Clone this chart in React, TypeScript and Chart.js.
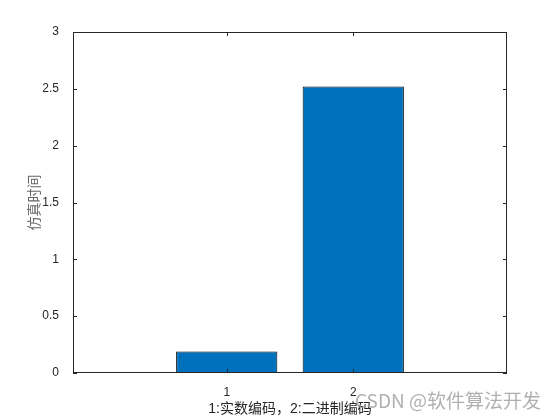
import { useEffect, useRef } from 'react'
import { Chart, registerables } from 'chart.js'

Chart.register(...registerables)

// data
const categories = [1, 2]
const simTimes = [0.19, 2.52]
const yTickValues = [0, 0.5, 1, 1.5, 2, 2.5, 3]
const xTitle = '1:实数编码，2:二进制编码'
const yTitle = '仿真时间'

const axisColor = '#262626'
const tickFont = { family: '"Liberation Sans", Arial, sans-serif', size: 12 }

// MATLAB style box with inward ticks on all four sides
const boxTicks = {
  id: 'boxTicks',
  afterDraw(chart: any) {
    const { ctx, chartArea: a, scales } = chart
    const len = 4
    ctx.save()
    ctx.strokeStyle = axisColor
    ctx.lineWidth = 1
    ctx.strokeRect(a.left + 0.5, a.top + 0.5, a.right - a.left - 1, a.bottom - a.top - 1)
    ctx.beginPath()
    scales.y.ticks.forEach((t: any) => {
      const y = Math.round(scales.y.getPixelForValue(t.value)) + 0.5
      ctx.moveTo(a.left, y)
      ctx.lineTo(a.left + len, y)
      ctx.moveTo(a.right, y)
      ctx.lineTo(a.right - len, y)
    })
    scales.x.ticks.forEach((t: any) => {
      const x = Math.round(scales.x.getPixelForValue(t.value)) + 0.5
      ctx.moveTo(x, a.bottom)
      ctx.lineTo(x, a.bottom - len)
      ctx.moveTo(x, a.top)
      ctx.lineTo(x, a.top + len)
    })
    ctx.stroke()
    ctx.restore()
  },
}

export default function App() {
  const canvasRef = useRef<HTMLCanvasElement>(null)
  const chartRef = useRef<Chart | null>(null)

  useEffect(() => {
    document.body.style.margin = '0'
    if (!canvasRef.current) return
    if (chartRef.current) chartRef.current.destroy()
    const ctx = canvasRef.current.getContext('2d')
    if (!ctx) return

    chartRef.current = new Chart(ctx, {
      type: 'bar',
      data: {
        datasets: [{
          data: categories.map((c, i) => ({ x: c, y: simTimes[i] })),
          backgroundColor: '#0072BD',
          borderColor: '#000000',
          borderWidth: 1,
          barPercentage: 0.8,
          categoryPercentage: 1,
        }],
      },
      options: {
        animation: false,
        responsive: true,
        maintainAspectRatio: false,
        layout: { padding: { top: 32, right: 53, left: 0, bottom: 0 } },
        plugins: { legend: { display: false }, tooltip: { enabled: false } },
        scales: {
          x: {
            type: 'linear',
            offset: false,
            min: -0.215,
            max: 3.215,
            grid: { display: false, offset: false },
            border: { display: false },
            afterBuildTicks: (s: any) => { s.ticks = categories.map(v => ({ value: v })) },
            afterFit: (s: any) => { s.height = 47 },
            ticks: { color: axisColor, font: tickFont, padding: 4, callback: (v: any) => String(v) },
            title: {
              display: true,
              text: xTitle,
              color: axisColor,
              font: { family: '"Liberation Sans", "Noto Sans CJK SC", sans-serif', size: 14 },
              padding: { top: 0, bottom: 2 },
            },
          },
          y: {
            min: 0,
            max: 3,
            grid: { display: false },
            border: { display: false },
            afterBuildTicks: (s: any) => { s.ticks = yTickValues.map(v => ({ value: v })) },
            afterFit: (s: any) => { s.width = 73 },
            ticks: { color: axisColor, font: tickFont, padding: 6, callback: (v: any) => String(v) },
            title: {
              display: true,
              text: yTitle,
              color: '#666666',
              font: { family: '"Noto Sans CJK SC", sans-serif', size: 14 },
              padding: { top: 25, bottom: 0 },
            },
          },
        },
      },
      plugins: [boxTicks],
    } as any)

    return () => {
      if (chartRef.current) {
        chartRef.current.destroy()
        chartRef.current = null
      }
    }
  }, [])

  return (
    <div style={{ position: 'relative', width: 560, height: 420, background: '#fff' }}>
      <canvas ref={canvasRef} />
      <div
        style={{
          position: 'absolute',
          left: 355,
          top: 386,
          fontFamily: '"Noto Sans CJK SC", sans-serif',
          fontSize: 19,
          color: 'rgba(150,150,150,0.75)',
          whiteSpace: 'nowrap',
          pointerEvents: 'none',
        }}
      >
        CSDN @软件算法开发
      </div>
    </div>
  )
}
